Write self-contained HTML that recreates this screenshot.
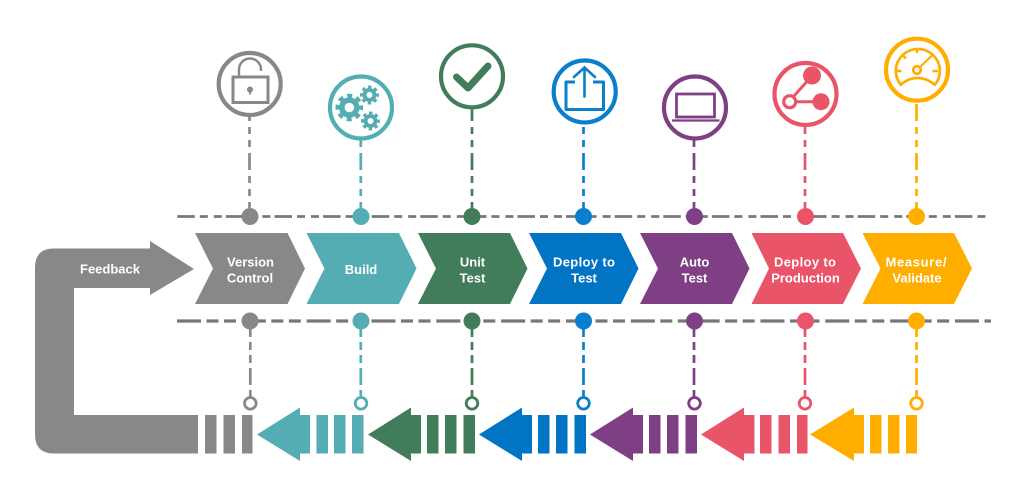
<!DOCTYPE html>
<html>
<head>
<meta charset="utf-8">
<style>
html,body{margin:0;padding:0;background:#fff;width:1024px;height:494px;overflow:hidden}
svg{display:block}
text{font-family:"Liberation Sans",sans-serif;font-weight:bold;font-size:13px;fill:#fff;text-anchor:middle}
.c{fill:#fff;stroke-width:4.2}
</style>
</head>
<body>
<svg width="1024" height="494" viewBox="0 0 1024 494" xmlns="http://www.w3.org/2000/svg">
<!-- horizontal dashed lines -->
<path d="M177.300 216.500H986.500" stroke="#777" stroke-width="2.800" stroke-dasharray="17.500 5 8 6 8 4.100" fill="none"/>
<path d="M177 321H991" stroke="#777" stroke-width="3.200" stroke-dasharray="24 5.500 12 5.500 12 5.830" fill="none"/>

<!-- vertical connectors -->
<g fill="none" stroke-width="2.700">
<g stroke="#888"><path d="M249.500 104V208" stroke-dasharray="17 6 7 6 7 6"/><path d="M250.300 320V398" stroke-dasharray="17 5 8 5 8 5 17 5 8"/></g>
<g stroke="#54adb3"><path d="M360.800 104V208" stroke-dasharray="17 6 7 6 7 6"/><path d="M360.800 320V398" stroke-dasharray="17 5 8 5 8 5 17 5 8"/></g>
<g stroke="#417d5a"><path d="M472 104V208" stroke-dasharray="17 6 7 6 7 6"/><path d="M472 320V398" stroke-dasharray="17 5 8 5 8 5 17 5 8"/></g>
<g stroke="#0a7fcb"><path d="M583.500 104V208" stroke-dasharray="17 6 7 6 7 6"/><path d="M583.500 320V398" stroke-dasharray="17 5 8 5 8 5 17 5 8"/></g>
<g stroke="#7f3f85"><path d="M694 104V208" stroke-dasharray="17 6 7 6 7 6"/><path d="M694 320V398" stroke-dasharray="17 5 8 5 8 5 17 5 8"/></g>
<g stroke="#e95468"><path d="M805 104V208" stroke-dasharray="17 6 7 6 7 6"/><path d="M805 320V398" stroke-dasharray="17 5 8 5 8 5 17 5 8"/></g>
<g stroke="#ffae00"><path d="M916.500 55V208" stroke-dasharray="17 6 7 6 7 6"/><path d="M916.500 320V398" stroke-dasharray="17 5 8 5 8 5 17 5 8"/></g>
</g>

<!-- dots -->
<g>
<g fill="#888"><circle cx="250" cy="216.500" r="8.500"/><circle cx="250" cy="321" r="8.500"/></g>
<g fill="#54adb3"><circle cx="361" cy="216.500" r="8.500"/><circle cx="361" cy="321" r="8.500"/></g>
<g fill="#417d5a"><circle cx="472" cy="216.500" r="8.500"/><circle cx="472" cy="321" r="8.500"/></g>
<g fill="#0a7fcb"><circle cx="583.500" cy="216.500" r="8.500"/><circle cx="583.500" cy="321" r="8.500"/></g>
<g fill="#7f3f85"><circle cx="694.500" cy="216.500" r="8.500"/><circle cx="694.500" cy="321" r="8.500"/></g>
<g fill="#e95468"><circle cx="805.500" cy="216.500" r="8.500"/><circle cx="805.500" cy="321" r="8.500"/></g>
<g fill="#ffae00"><circle cx="916.500" cy="216.500" r="8.500"/><circle cx="916.500" cy="321" r="8.500"/></g>
</g>

<!-- rings -->
<g fill="#fff" stroke-width="2.800">
<circle cx="250.300" cy="403.300" r="5.800" stroke="#888"/>
<circle cx="361" cy="403.300" r="5.800" stroke="#54adb3"/>
<circle cx="472" cy="403.300" r="5.800" stroke="#417d5a"/>
<circle cx="583.500" cy="403.300" r="5.800" stroke="#0a7fcb"/>
<circle cx="694.500" cy="403.300" r="5.800" stroke="#7f3f85"/>
<circle cx="805" cy="403.300" r="5.800" stroke="#e95468"/>
<circle cx="916.500" cy="403.300" r="5.800" stroke="#ffae00"/>
</g>

<!-- chevrons -->
<polygon fill="#888888" points="195,233 287.500,233 305,268.500 287.500,304 195,304 213,268.500"/>
<polygon fill="#54adb3" points="306.500,233 399,233 416.500,268.500 399,304 306.500,304 324.500,268.500"/>
<polygon fill="#417d5a" points="418,233 510,233 527.500,268.500 510,304 418,304 436,268.500"/>
<polygon fill="#0274c4" points="529,233 621,233 638.500,268.500 621,304 529,304 547,268.500"/>
<polygon fill="#7f3f85" points="640,233 732,233 749.500,268.500 732,304 640,304 658,268.500"/>
<polygon fill="#e95468" points="751.500,233 843,233 861,268.500 843,304 751.500,304 769,268.500"/>
<polygon fill="#ffae00" points="862.500,233 954,233 972,268.500 954,304 862.500,304 880.500,268.500"/>

<text x="250.500" y="266.500">Version</text><text x="250" y="282.500">Control</text>
<text x="361" y="274">Build</text>
<text x="472.500" y="266.500">Unit</text><text x="472.500" y="282.500">Test</text>
<text x="584" y="266.500" textLength="62">Deploy to</text><text x="584" y="282.500">Test</text>
<text x="694.500" y="266.500">Auto</text><text x="694.500" y="282.500">Test</text>
<text x="805" y="266.500" textLength="62">Deploy to</text><text x="805.500" y="282.500">Production</text>
<text x="916" y="266.500" textLength="61">Measure/</text><text x="917" y="282.500">Validate</text>

<!-- feedback arrow -->
<path fill="#888888" d="M198 415H74V288H150V295L194 269L150 241V248.500H54Q35 248.500 35 267.500V434.500Q35 453.500 54 453.500H198Z"/>
<text x="110" y="273.500">Feedback</text>

<!-- bottom bars -->
<g fill="#888888"><rect x="205" y="415" width="11.500" height="38.500"/><rect x="223.500" y="415" width="11.500" height="38.500"/><rect x="242" y="415" width="10.500" height="38.500"/></g>
<g fill="#54adb3"><polygon points="257,434.500 300,407.500 300,415 310,415 310,453.500 300,453.500 300,461"/><rect x="316.500" y="415" width="11.500" height="38.500"/><rect x="334" y="415" width="11.500" height="38.500"/><rect x="352" y="415" width="11.500" height="38.500"/></g>
<g fill="#417d5a"><polygon points="368,434.500 411,407.500 411,415 421,415 421,453.500 411,453.500 411,461"/><rect x="427" y="415" width="11.500" height="38.500"/><rect x="445" y="415" width="11.500" height="38.500"/><rect x="463.500" y="415" width="11.500" height="38.500"/></g>
<g fill="#0274c4"><polygon points="479,434.500 522,407.500 522,415 532,415 532,453.500 522,453.500 522,461"/><rect x="538" y="415" width="11.500" height="38.500"/><rect x="556" y="415" width="11.500" height="38.500"/><rect x="574.500" y="415" width="11.500" height="38.500"/></g>
<g fill="#7f3f85"><polygon points="590,434.500 633,407.500 633,415 643,415 643,453.500 633,453.500 633,461"/><rect x="649" y="415" width="11.500" height="38.500"/><rect x="667" y="415" width="11.500" height="38.500"/><rect x="685.500" y="415" width="11.500" height="38.500"/></g>
<g fill="#e95468"><polygon points="701,434.500 744,407.500 744,415 754.500,415 754.500,453.500 744,453.500 744,461"/><rect x="760" y="415" width="11.500" height="38.500"/><rect x="778.500" y="415" width="11.500" height="38.500"/><rect x="797" y="415" width="10.500" height="38.500"/></g>
<g fill="#ffae00"><polygon points="810,434.500 854,407.500 854,415 864,415 864,453.500 854,453.500 854,461"/><rect x="870" y="415" width="11.500" height="38.500"/><rect x="888" y="415" width="11.500" height="38.500"/><rect x="906" y="415" width="11" height="38.500"/></g>

<!-- lock -->
<circle class="c" cx="249.700" cy="84" r="31" stroke="#888"/>
<rect x="233" y="77" width="35" height="25.500" fill="none" stroke="#888" stroke-width="3"/>
<path d="M239 77V69.500A11 11 0 0 1 261 69.500V71" fill="none" stroke="#888" stroke-width="2.400"/>
<circle cx="250" cy="89.500" r="3" fill="#888"/><rect x="249" y="89.500" width="2" height="5" fill="#888"/>

<!-- gears -->
<circle class="c" cx="361" cy="107.500" r="31" stroke="#54adb3"/>
<g fill="none" stroke="#54adb3">
<circle cx="349.300" cy="107.500" r="7.500" stroke-width="5.500"/>
<circle cx="349.300" cy="107.500" r="11.800" stroke-width="4" stroke-dasharray="5 4.270" stroke-dashoffset="2.500"/>
<circle cx="369.500" cy="95" r="5" stroke-width="4"/>
<circle cx="369.500" cy="95" r="8" stroke-width="3" stroke-dasharray="3.400 2.880" stroke-dashoffset="1.700"/>
<circle cx="370.500" cy="121" r="5" stroke-width="4"/>
<circle cx="370.500" cy="121" r="8" stroke-width="3" stroke-dasharray="3.400 2.880" stroke-dashoffset="1.700"/>
</g>

<!-- check -->
<circle class="c" cx="472" cy="76.300" r="31" stroke="#417d5a"/>
<path d="M456.500 77L468 88L488 66" fill="none" stroke="#417d5a" stroke-width="7" stroke-linecap="round" stroke-linejoin="round"/>

<!-- upload -->
<circle class="c" cx="584.700" cy="91.500" r="31" stroke="#0a7fcb"/>
<path d="M575 82H566V109.500H603.500V82H593" fill="none" stroke="#0a7fcb" stroke-width="3" stroke-linejoin="round"/>
<path d="M584.500 96.500V68M574 77L584.500 67.500L595 77" fill="none" stroke="#0a7fcb" stroke-width="2.600" stroke-linecap="round"/>

<!-- laptop -->
<circle class="c" cx="695" cy="107.500" r="31" stroke="#7f3f85"/>
<rect x="676.500" y="94" width="38" height="23" fill="none" stroke="#7f3f85" stroke-width="2.800"/>
<path d="M672 120.500H719.500" stroke="#7f3f85" stroke-width="2.200" fill="none"/>

<!-- share -->
<circle class="c" cx="805.500" cy="94" r="31" stroke="#e95468"/>
<path d="M794 96L810 78M796 101.700H815" stroke="#e95468" stroke-width="3" fill="none"/>
<circle cx="812" cy="75.500" r="9" fill="#e95468"/>
<circle cx="821" cy="101.700" r="8.500" fill="#e95468"/>
<circle cx="789.700" cy="101.700" r="6" fill="#fff" stroke="#e95468" stroke-width="3.200"/>

<!-- gauge -->
<circle class="c" cx="917" cy="69.700" r="31" stroke="#ffae00"/>
<g fill="none" stroke="#ffae00">
<path d="M900.700 84.700A22 22 0 1 1 935 84.700Q917 71 900.700 84.700Z" stroke-width="2.700" stroke-linejoin="round"/>
<circle cx="917" cy="70" r="3.800" stroke-width="2.700"/>
<path d="M920 67L933 54.500" stroke-width="2.200"/>
<path d="M917 48V53M896 71H901.500M932.500 71H938M903 55.500L906 58.500" stroke-width="2.400"/>
</g>
</svg>
</body>
</html>
